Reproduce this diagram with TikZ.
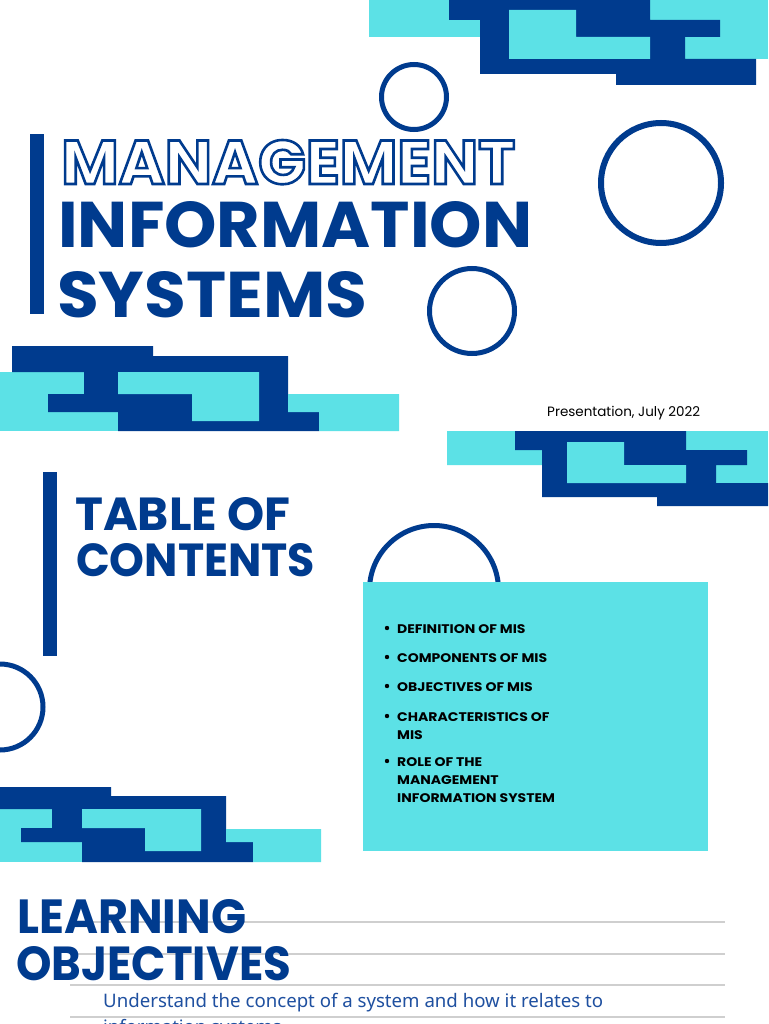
\documentclass[tikz,border=0pt]{standalone}
\usepackage{fontspec}
\usepackage{graphicx}
\setmainfont{Poppins}
\newfontfamily\plexlike{Noto Sans}
\definecolor{navy}{HTML}{003B8E}
\definecolor{aqua}{HTML}{5CE1E6}
\definecolor{rulegray}{HTML}{CFCFCF}
\definecolor{bodyblue}{HTML}{1F50A0}
\newcommand{\outlined}[1]{\special{pdf:code 1 Tr 0.42 w 0 0.23 0.557 RG}#1\special{pdf:code 0 Tr 1 w}}
\newcommand{\listline}[1]{\scalebox{1.12}[1]{#1}}
\tikzset{
  x=1pt,y=-1pt,
  ringline/.style={draw=navy,line width=#1,fill=none},
  darkblock/.style={fill=navy,draw=none},
  lightblock/.style={fill=aqua,draw=none},
  titletext/.style={anchor=base west,inner sep=0pt,text=navy,font=\bfseries},
  listtext/.style={anchor=base west,inner sep=0pt,text=black,font=\bfseries\fontsize{12.5}{12.5}\selectfont},
  guide/.style={draw=rulegray,line width=1.6pt},
}
\begin{document}
\begin{tikzpicture}
\useasboundingbox (0,0) rectangle (768,1024);
\clip (0,0) rectangle (768,1024);
\fill[white] (0,0) rectangle (768,1024);
% top block
\fill[lightblock] (369,0) rectangle (480,37);
\fill[lightblock] (650,0) rectangle (768,59);
\fill[darkblock] (449,0)--(650,0)--(650,20)--(720,20)--(720,37)--(685,37)--(685,59)--(756,59)--(756,85)--(616,85)--(616,74)--(480,74)--(480,20)--(449,20)--cycle;
\fill[lightblock] (509,10)--(576,10)--(576,37)--(650,37)--(650,59)--(509,59)--cycle;
% second block
\fill[lightblock] (0,372) rectangle (118,431);
\fill[darkblock] (12,346)--(153,346)--(153,356)--(288,356)--(288,412)--(319,412)--(319,431)--(118,431)--(118,412)--(48,412)--(48,394)--(84,394)--(84,372)--(12,372)--cycle;
\fill[lightblock] (118,372)--(259,372)--(259,421)--(192,421)--(192,394)--(118,394)--cycle;
\fill[lightblock] (288,394)--(399,394)--(399,431)--(319,431)--(319,412)--(288,412)--cycle;
% third block
\fill[lightblock] (447,431)--(515,431)--(515,450)--(542,450)--(542,465)--(447,465)--cycle;
\fill[lightblock] (686,431) rectangle (768,483);
\fill[darkblock] (515,431)--(686,431)--(686,450)--(747,450)--(747,465)--(716,465)--(716,483)--(768,483)--(768,506)--(657,506)--(657,497)--(542,497)--(542,450)--(515,450)--cycle;
\fill[lightblock] (567,442)--(624,442)--(624,465)--(686,465)--(686,483)--(567,483)--cycle;
% fourth block
\fill[lightblock] (0,809) rectangle (82,862);
\fill[darkblock] (0,787)--(111,787)--(111,796)--(226,796)--(226,842)--(253,842)--(253,862)--(82,862)--(82,842)--(21,842)--(21,828)--(52,828)--(52,809)--(0,809)--cycle;
\fill[lightblock] (82,809)--(201,809)--(201,851)--(145,851)--(145,828)--(82,828)--cycle;
\fill[lightblock] (226,829)--(321,829)--(321,862)--(253,862)--(253,842)--(226,842)--cycle;
% rings
\draw[ringline=5pt] (414,97) circle (32.5);
\draw[ringline=6pt] (661,183) circle (60);
\draw[ringline=5pt] (472,311) circle (42.5);
\draw[ringline=5pt] (434,590) circle (64.5);
\draw[ringline=5pt] (0,707) circle (43);
% bars
\fill[navy] (30,134) rectangle (44,314);
\fill[navy] (43,472) rectangle (57,656);
% panel
\fill[aqua] (363,582) rectangle (708,851);
% guide lines
\coordinate (g1a) at (70,922); \coordinate (g1b) at (725,922);
\coordinate (g2a) at (70,954); \coordinate (g2b) at (725,954);
\coordinate (g3a) at (70,985); \coordinate (g3b) at (725,985);
\coordinate (g4a) at (70,1017); \coordinate (g4b) at (725,1017);
\draw[guide] (g1a)--(g1b); \draw[guide] (g2a)--(g2b); \draw[guide] (g3a)--(g3b); \draw[guide] (g4a)--(g4b);
% titles
\node[titletext] (tmanagement) at (61,184) {\resizebox{454pt}{44pt}{\outlined{MANAGEMENT}}};
\node[titletext] (tinformation) at (58,247) {\resizebox{474pt}{46pt}{INFORMATION}};
\node[titletext] (tsystems) at (57,317) {\resizebox{310pt}{46pt}{SYSTEMS}};
\node[anchor=base west,inner sep=0pt,text=black,font=\fontsize{13.5}{13.5}\selectfont] (tdate) at (547,416) {\resizebox{153pt}{!}{Presentation, July 2022}};
\node[titletext] (ttable) at (75,530) {\resizebox{215pt}{33pt}{TABLE OF}};
\node[titletext] (tcontents) at (76,576) {\resizebox{239pt}{33pt}{CONTENTS}};
\node[titletext] (tlearning) at (17,933) {\resizebox{229pt}{34pt}{LEARNING}};
\node[titletext] (tobjectives) at (16,980) {\resizebox{275pt}{34pt}{OBJECTIVES}};
% list
\node[listtext] (l1) at (397,633) {\listline{DEFINITION OF MIS}};
\node[listtext] (l2) at (397,662) {\listline{COMPONENTS OF MIS}};
\node[listtext] (l3) at (397,691) {\listline{OBJECTIVES OF MIS}};
\node[listtext] (l4a) at (397,721) {\listline{CHARACTERISTICS OF}};
\node[listtext] (l4b) at (397,739) {\listline{MIS}};
\node[listtext] (l5a) at (397,766) {\listline{ROLE OF THE}};
\node[listtext] (l5b) at (397,784) {\listline{MANAGEMENT}};
\node[listtext] (l5c) at (397,802) {\listline{INFORMATION SYSTEM}};
\foreach \yy in {628,657,686,716,761}{
  \fill[black] (387,\yy) circle (2.2);
}
% body
\node[anchor=base west,inner sep=0pt,text=bodyblue,font=\plexlike\fontsize{18.5}{18.5}\selectfont] (b1) at (103,1007) {\resizebox{500pt}{!}{Understand the concept of a system and how it relates to}};
\node[anchor=base west,inner sep=0pt,text=bodyblue,font=\plexlike\fontsize{18.5}{18.5}\selectfont] (b2) at (103,1033) {information systems};
\end{tikzpicture}
\end{document}
